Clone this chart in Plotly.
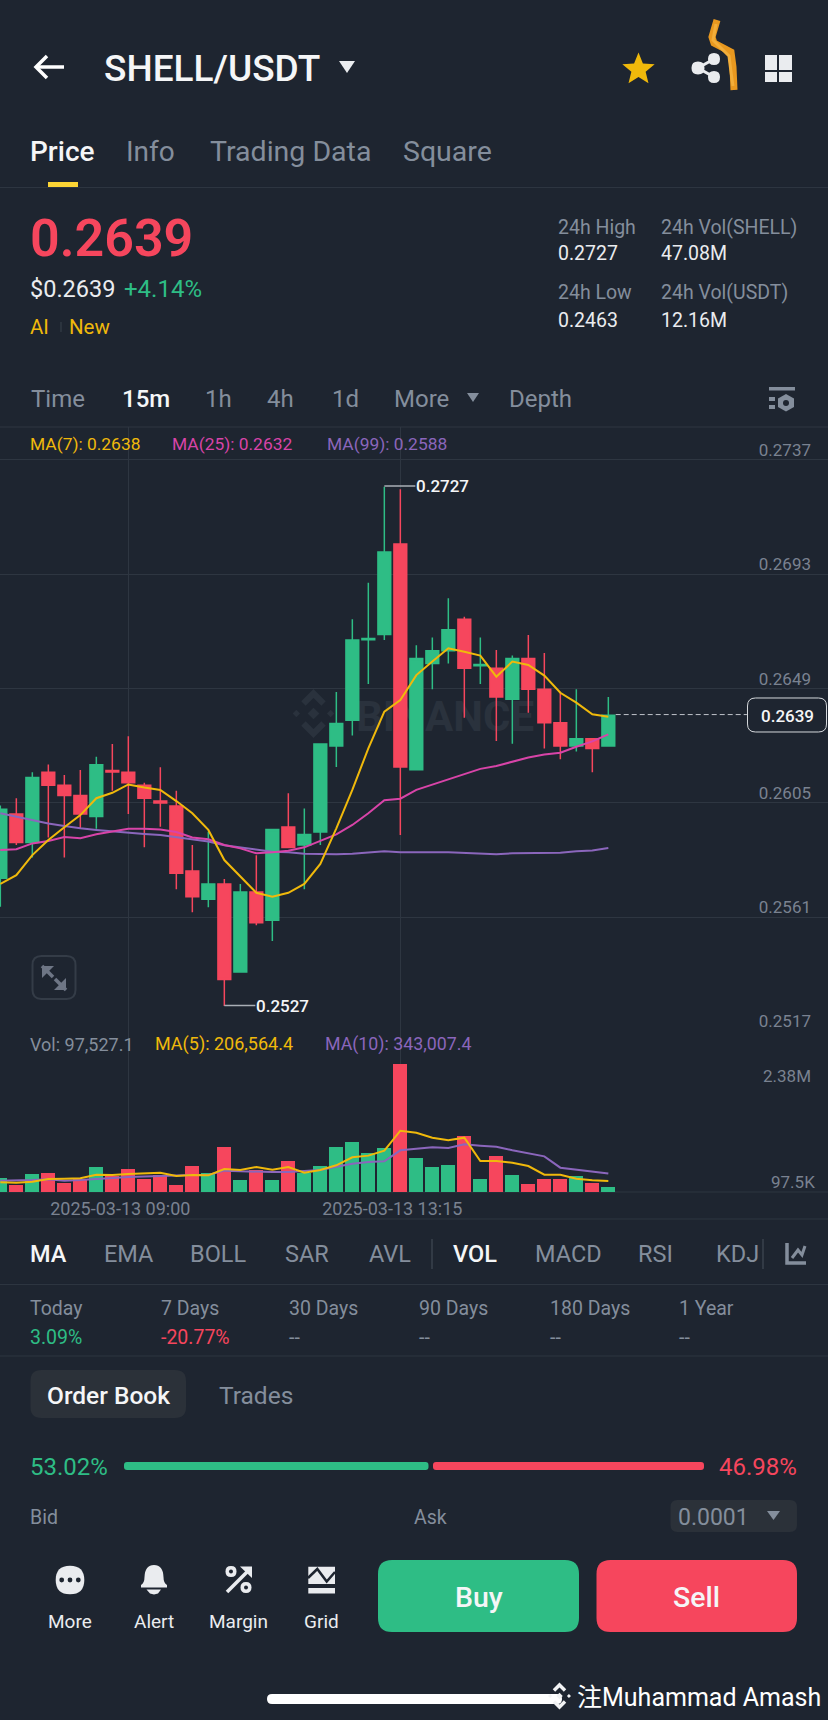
import math
import pandas as pd
import plotly.graph_objects as go

W, H = 828, 1720
FONT = "Roboto"
BG = "#1E2530"
LINE = "#2E3641"
GRAY = "#848E9C"
DIM = "#7A8290"
WHITE = "#EAECEF"
GREEN = "#2EBD85"
RED = "#F6465D"
YELLOW = "#F0B90B"
PINK = "#D844A8"
PURPLE = "#8B66BC"
PANEL = "#2B3139"

# %%
# 15m candles
dates = pd.date_range("2025-03-13 07:00", periods=39, freq="15min")
opens = [0.25760, 0.26007, 0.25898, 0.26168, 0.26118, 0.26078, 0.25998, 0.26175, 0.26168, 0.26118,
         0.26057, 0.26038, 0.25788, 0.25679, 0.25738, 0.25399, 0.25707, 0.25598, 0.25957, 0.25888,
         0.25938, 0.26269, 0.26368, 0.26678, 0.26698, 0.27047, 0.26178, 0.26587, 0.26636, 0.26757,
         0.26578, 0.26568, 0.26449, 0.26606, 0.26487, 0.26359, 0.26269, 0.26297, 0.26269]
highs = [0.26040, 0.26068, 0.26168, 0.26198, 0.26157, 0.26177, 0.26228, 0.26277, 0.26307, 0.26128,
         0.26187, 0.26097, 0.25888, 0.25939, 0.25757, 0.25738, 0.25848, 0.25948, 0.26087, 0.26028,
         0.26277, 0.26477, 0.26757, 0.26897, 0.27267, 0.27257, 0.26657, 0.26687, 0.26838, 0.26767,
         0.26687, 0.26639, 0.26617, 0.26696, 0.26627, 0.26478, 0.26487, 0.26297, 0.26458]
lows = [0.25650, 0.25888, 0.25840, 0.25917, 0.25840, 0.25952, 0.25950, 0.26097, 0.26007, 0.25879,
        0.25958, 0.25718, 0.25629, 0.25648, 0.25268, 0.25399, 0.25579, 0.25518, 0.25878, 0.25718,
        0.25888, 0.26188, 0.26309, 0.26508, 0.26677, 0.25926, 0.26178, 0.26487, 0.26587, 0.26378,
        0.26508, 0.26288, 0.26278, 0.26397, 0.26259, 0.26218, 0.26248, 0.26168, 0.26269]
closes = [0.26026, 0.25898, 0.26148, 0.26118, 0.26078, 0.26007, 0.26197, 0.26169, 0.26128, 0.26068,
          0.26050, 0.25779, 0.25689, 0.25738, 0.25370, 0.25707, 0.25589, 0.25948, 0.25878, 0.25928,
          0.26277, 0.26356, 0.26677, 0.26683, 0.27016, 0.26188, 0.26606, 0.26636, 0.26717, 0.26568,
          0.26583, 0.26458, 0.26606, 0.26487, 0.26359, 0.26269, 0.26297, 0.26259, 0.26387]
ma7 = [0.25738, 0.25772, 0.25849, 0.25907, 0.25956, 0.26003, 0.26068, 0.26089, 0.26121, 0.26109,
       0.26100, 0.26057, 0.26010, 0.25946, 0.25830, 0.25766, 0.25704, 0.25689, 0.25704, 0.25738,
       0.25815, 0.25952, 0.26100, 0.26260, 0.26401, 0.26446, 0.26542, 0.26594, 0.26645, 0.26632,
       0.26617, 0.26536, 0.26594, 0.26581, 0.26540, 0.26474, 0.26436, 0.26391, 0.26382]
ma25 = [0.25869, 0.25872, 0.25894, 0.25903, 0.25919, 0.25914, 0.25929, 0.25939, 0.25950, 0.25950,
        0.25948, 0.25938, 0.25917, 0.25910, 0.25888, 0.25875, 0.25856, 0.25860, 0.25866, 0.25879,
        0.25905, 0.25929, 0.25965, 0.26010, 0.26060, 0.26066, 0.26100, 0.26120, 0.26141, 0.26160,
        0.26181, 0.26192, 0.26209, 0.26225, 0.26236, 0.26243, 0.26266, 0.26287, 0.26314]
ma99 = [0.26010, 0.25997, 0.25984, 0.25971, 0.25961, 0.25952, 0.25946, 0.25940, 0.25935, 0.25930,
        0.25926, 0.25917, 0.25910, 0.25901, 0.25887, 0.25878, 0.25869, 0.25862, 0.25860, 0.25854,
        0.25853, 0.25852, 0.25854, 0.25858, 0.25864, 0.25860, 0.25861, 0.25860, 0.25860, 0.25858,
        0.25856, 0.25852, 0.25856, 0.25857, 0.25856, 0.25858, 0.25864, 0.25867, 0.25876]

# volume in thousands
volumes = [254, 136, 328, 347, 167, 236, 459, 298, 428, 248,
           316, 136, 483, 347, 837, 223, 409, 223, 576, 359,
           483, 837, 936, 719, 812, 2380, 632, 471, 496, 1041,
           236, 663, 310, 155, 242, 236, 304, 167, 97.5]
vol_ma5 = [180, 174, 192, 242, 248, 254, 322, 316, 335, 347,
           359, 298, 316, 310, 428, 409, 465, 415, 465, 359,
           409, 496, 645, 676, 769, 1140, 1103, 1010, 961, 1010,
           576, 576, 545, 483, 322, 322, 248, 217, 206.6]
vol_ma10 = [211, 211, 223, 236, 211, 223, 248, 260, 279, 291,
            304, 310, 316, 316, 397, 384, 372, 372, 372, 397,
            409, 471, 527, 558, 570, 775, 800, 831, 818, 886,
            862, 843, 775, 719, 663, 452, 415, 384, 343]

price_ticks = [0.2737, 0.2693, 0.2649, 0.2605, 0.2561, 0.2517]
time_ticks = ["2025-03-13 09:00", "2025-03-13 13:15"]
last_price = 0.2639
high_price = 0.2727
low_price = 0.2527

# %%
def fx(x):
    return x / W

def fy(y):
    return 1 - y / H

def bar_at(step):
    return dates[0] + pd.Timedelta(minutes=15 * step)

shapes = []
annots = []

def text(x, y, s, size=19.5, color=GRAY, anchor="left", weight=400, family=FONT):
    # left aligned glyphs came out 2px right of the reference
    if anchor == "left":
        x -= 2
    annots.append(dict(x=fx(x), y=fy(y), xref="paper", yref="paper", text=s, showarrow=False,
                       xanchor=anchor, yanchor="middle", borderpad=0,
                       font=dict(family=family, size=size, color=color, weight=weight)))

def poly(points, fill=None, line=None, width=0, close=True, layer="above", opacity=1):
    d = "M" + " L".join(f"{fx(a):.5f},{fy(b):.5f}" for a, b in points) + (" Z" if close else "")
    shapes.append(dict(type="path", path=d, xref="paper", yref="paper", fillcolor=fill,
                       layer=layer, opacity=opacity, line=dict(color=line, width=width)))

def hline(y, x0=0, x1=W, color=LINE, width=1):
    poly([(x0, y), (x1, y)], line=color, width=width, close=False, layer="below")

def box(x0, y0, x1, y1, r=0, fill=None, line=None, width=0, layer="above"):
    d = (f"M{fx(x0 + r):.5f},{fy(y0):.5f} L{fx(x1 - r):.5f},{fy(y0):.5f} "
         f"Q{fx(x1):.5f},{fy(y0):.5f} {fx(x1):.5f},{fy(y0 + r):.5f} "
         f"L{fx(x1):.5f},{fy(y1 - r):.5f} Q{fx(x1):.5f},{fy(y1):.5f} {fx(x1 - r):.5f},{fy(y1):.5f} "
         f"L{fx(x0 + r):.5f},{fy(y1):.5f} Q{fx(x0):.5f},{fy(y1):.5f} {fx(x0):.5f},{fy(y1 - r):.5f} "
         f"L{fx(x0):.5f},{fy(y0 + r):.5f} Q{fx(x0):.5f},{fy(y0):.5f} {fx(x0 + r):.5f},{fy(y0):.5f} Z")
    shapes.append(dict(type="path", path=d, xref="paper", yref="paper", fillcolor=fill, layer=layer,
                       line=dict(color=line, width=width)))

def dot(cx, cy, r, fill):
    box(cx - r, cy - r, cx + r, cy + r, r=r, fill=fill)

def caret(x0, x1, y0, y1, color):
    poly([(x0, y0), (x1, y0), ((x0 + x1) / 2, y1)], fill=color)

def logo(cx, cy, s, color, layer="above"):
    def part(pts):
        poly([(cx + a * s, cy + b * s) for a, b in pts], fill=color, layer=layer)
    part([(0, -0.24), (0.24, 0), (0, 0.24), (-0.24, 0)])
    part([(-0.7, -0.15), (-0.55, 0), (-0.7, 0.15), (-0.85, 0)])
    part([(0.7, -0.15), (0.85, 0), (0.7, 0.15), (0.55, 0)])
    for sign in (-1, 1):
        part([(0, sign), (0.5, sign * 0.5), (0.32, sign * 0.32), (0, sign * 0.63), (-0.32, sign * 0.32), (-0.5, sign * 0.5)])

# %%
# header
poly([(36, 67), (64, 67)], line="#FFFFFF", width=3.5, close=False)
poly([(47, 56), (36, 67), (47, 78)], line="#FFFFFF", width=3.5, close=False)
text(105, 68, "SHELL/USDT", 37, "#F5F6F7", weight=500)
caret(339, 355, 61, 73, WHITE)
star = []
for k in range(10):
    r = 17 if k % 2 == 0 else 7.5
    a = -math.pi / 2 + k * math.pi / 5
    star.append((638.5 + r * math.cos(a), 69.5 + r * math.sin(a)))
poly(star, fill=YELLOW)
poly([(714, 59), (698, 68), (714, 77)], line=WHITE, width=3, close=False)
dot(714, 59, 6, WHITE)
dot(698, 68, 6.5, WHITE)
dot(714, 77, 6, WHITE)
for x0, x1, y0, y1 in [(765, 777, 55, 70), (779, 792, 55, 70), (765, 777, 72, 82), (779, 792, 72, 82)]:
    box(x0, y0, x1, y1, fill=WHITE)
poly([(717, 20), (712, 37), (714, 43), (731, 52), (733, 67), (734, 90)], line="#E8981F", width=7, close=False)
poly([(716, 24), (713, 40), (720, 47), (729, 56), (731, 72), (733, 86)], line="#F2AE3A", width=3, close=False)

text(31, 152, "Price", 28, "#F5F6F7", weight=500)
text(127, 152, "Info", 28, GRAY)
text(211, 152, "Trading Data", 28.5, GRAY)
text(404, 152, "Square", 28.5, GRAY)
box(48, 182, 78, 187, fill="#FCD535")
hline(187.5)

text(31, 238, "0.2639", 52, RED, weight=600)
text(31, 289, "$0.2639", 23.5, WHITE)
text(125, 289, "+4.14%", 24, GREEN)
text(31, 327, "AI", 20.5, YELLOW)
poly([(61, 322), (61, 332)], line="#3A424D", width=1, close=False)
text(70, 327, "New", 20.5, YELLOW)
text(559, 227, "24h High")
text(559, 254, "0.2727", 19.5, WHITE)
text(662, 227, "24h Vol(SHELL)")
text(662, 254, "47.08M", 19.5, WHITE)
text(559, 292, "24h Low")
text(559, 320, "0.2463", 19.5, WHITE)
text(662, 292, "24h Vol(USDT)")
text(662, 320, "12.16M", 19.5, WHITE)

for x, s, c, w in [(32, "Time", GRAY, 400), (123, "15m", "#F5F6F7", 500), (206, "1h", GRAY, 400), (268, "4h", GRAY, 400),
                   (333, "1d", GRAY, 400), (395, "More", GRAY, 400), (510, "Depth", GRAY, 400)]:
    text(x, 399, s, 24, c, weight=w)
caret(467, 479, 393, 402, GRAY)
box(769, 387, 795, 390.5, fill=GRAY)
box(769, 397, 775, 401, fill=GRAY)
box(769, 405, 775, 409, fill=GRAY)
poly([(786, 394), (794, 398.5), (794, 407), (786, 411.5), (778, 407), (778, 398.5)], fill=GRAY)
dot(786, 403, 3, BG)

# chart legends
hline(427)
text(31, 444, "MA(7): 0.2638", 17.4, YELLOW)
text(173, 444, "MA(25): 0.2632", 17.4, PINK)
text(328, 444, "MA(99): 0.2588", 17.4, PURPLE)
text(31, 1044, "Vol: 97,527.1", 18, GRAY)
text(156, 1044, "MA(5): 206,564.4", 18, YELLOW)
text(326, 1044, "MA(10): 343,007.4", 17.8, PURPLE)
text(812, 1076, "2.38M", 17, DIM, anchor="right")
text(816, 1182, "97.5K", 17, DIM, anchor="right")

# watermark sits under the candles
logo(313.5, 713.5, 24.5, "#2A323D", layer="below")
shapes.append(dict(type="rect", xref="paper", yref="paper", x0=fx(350), x1=fx(540), y0=fy(735), y1=fy(692),
                   layer="below", line=dict(width=0),
                   label=dict(text="BINANCE", font=dict(family=FONT, size=42, color="#2A323D", weight=700),
                              textposition="middle center")))

# expand button
box(32.5, 956, 75.5, 999, r=9, line="#343C47", width=2)
poly([(42, 966), (53, 977)], line="#6E7685", width=3.5, close=False)
poly([(42, 966), (54, 966), (42, 978)], fill="#6E7685")
poly([(55, 979), (66, 990)], line="#6E7685", width=3.5, close=False)
poly([(66, 990), (54, 990), (66, 978)], fill="#6E7685")

# last price tag
box(747.5, 698, 826.5, 732, r=8, fill=BG, line="#D5D8DC", width=1)
text(787, 715.5, "0.2639", 17, "#F5F6F7", anchor="center", weight=500)

# %%
# indicator row and lower panels
hline(1192)
hline(1219)
for x, s, c, w in [(31, "MA", "#F5F6F7", 500), (104.5, "EMA", GRAY, 400), (191, "BOLL", GRAY, 400), (285.5, "SAR", GRAY, 400),
                   (370, "AVL", GRAY, 400), (454, "VOL", "#F5F6F7", 500), (536, "MACD", GRAY, 400), (639, "RSI", GRAY, 400),
                   (717, "KDJ", GRAY, 400)]:
    text(x, 1254, s, 23.5, c, weight=w)
poly([(432, 1239), (432, 1269)], line="#3A424D", width=1.5, close=False)
poly([(763, 1239), (763, 1269)], line="#3A424D", width=1.5, close=False)
poly([(787, 1243), (787, 1263), (806, 1263)], line=GRAY, width=3.5, close=False)
poly([(792, 1258), (798, 1250), (802, 1255), (805, 1246)], line=GRAY, width=3, close=False)
hline(1284.5)

periods = [(31, "Today", "3.09%", GREEN), (161.5, "7 Days", "-20.77%", RED), (290, "30 Days", "--", GRAY),
           (420, "90 Days", "--", GRAY), (551, "180 Days", "--", GRAY), (680, "1 Year", "--", GRAY)]
for x, s, v, c in periods:
    text(x, 1308, s)
    text(x, 1337, v, 19.5, c)
hline(1356)

box(30.5, 1370, 186, 1418, r=11, fill=PANEL)
text(47.5, 1395, "Order Book", 24.5, "#F5F6F7", weight=500)
text(220, 1395, "Trades", 24.5, GRAY)

text(31, 1467, "53.02%", 24, GREEN)
box(124, 1462, 428.5, 1470, r=3, fill=GREEN)
box(433, 1462, 704, 1470, r=3, fill=RED)
text(720, 1467, "46.98%", 24, RED)

text(31, 1517, "Bid")
text(414.5, 1517, "Ask")
box(670.5, 1500, 797, 1532, r=7, fill=PANEL)
text(678.5, 1517, "0.0001", 23, GRAY)
caret(767, 780, 1511, 1520, GRAY)

box(378, 1560, 579, 1632, r=14, fill=GREEN)
text(478.5, 1597, "Buy", 28.5, "#F5F6F7", anchor="center", weight=500)
box(596.5, 1560, 797, 1632, r=14, fill=RED)
text(696.5, 1597, "Sell", 28.5, "#F5F6F7", anchor="center", weight=500)

# more
dot(70, 1580, 14.3, WHITE)
for x in (61.7, 70, 78.3):
    dot(x, 1580, 2.4, BG)
text(70, 1621, "More", 19, WHITE, anchor="center")
# alert
bell = (f"M{fx(141):.5f},{fy(1587.5):.5f} L{fx(141):.5f},{fy(1585):.5f} Q{fx(144.5):.5f},{fy(1583):.5f} {fx(144.5):.5f},{fy(1577):.5f} "
        f"Q{fx(145):.5f},{fy(1565):.5f} {fx(154):.5f},{fy(1565):.5f} Q{fx(163):.5f},{fy(1565):.5f} {fx(163.5):.5f},{fy(1577):.5f} "
        f"Q{fx(163.5):.5f},{fy(1583):.5f} {fx(167):.5f},{fy(1585):.5f} L{fx(167):.5f},{fy(1587.5):.5f} Z")
shapes.append(dict(type="path", path=bell, xref="paper", yref="paper", fillcolor=WHITE, line=dict(width=0)))
poly([(146.5, 1589.5), (161, 1589.5), (158, 1593.5), (154, 1594.5), (150, 1593.5)], fill=WHITE)
text(153.6, 1621, "Alert", 19, WHITE, anchor="center")
# margin
poly([(227, 1592), (249, 1570)], line=WHITE, width=3.5, close=False)
poly([(240, 1566.5), (252, 1566.5), (252, 1578)], fill=WHITE)
dot(231, 1571.5, 5.5, WHITE)
dot(231, 1571.5, 2, BG)
dot(246, 1587.5, 5.5, WHITE)
dot(246, 1587.5, 2, BG)
text(238, 1621, "Margin", 19, WHITE, anchor="center")
# grid
box(308.3, 1566.7, 335, 1584, fill=WHITE)
poly([(308, 1578), (317.3, 1569), (326.7, 1581.5), (335, 1572)], line=BG, width=2.5, close=False)
box(308.3, 1588, 335, 1593.5, fill=WHITE)
text(321.5, 1621, "Grid", 19, WHITE, anchor="center")

# home bar and overlay credit
box(267, 1694, 562, 1704, r=5, fill="#FFFFFF")
logo(559.5, 1696, 13.5, "#F2F3F4")
text(578, 1697, "注Muhammad Amash", 25, "#FFFFFF", family="Roboto, Noto Sans CJK SC")

# high / low callouts
for price, step, dx in [(high_price, 24, 31), (low_price, 14, 31)]:
    annots.append(dict(x=bar_at(step), y=price, xref="x", yref="y", ax=dx, ay=0, axref="pixel", ayref="pixel",
                       text=f"{price:.4f}", xanchor="left", yanchor="middle", showarrow=True, arrowhead=0,
                       arrowwidth=1.5, arrowcolor="#A9AEB5", standoff=0, startstandoff=0, borderpad=0,
                       font=dict(family=FONT, size=17, color="#F5F6F7", weight=500)))

# %%
fig = go.Figure()
fig.add_trace(go.Candlestick(x=dates, open=opens, high=highs, low=lows, close=closes,
                             whiskerwidth=0, hoverinfo="skip",
                             increasing=dict(line=dict(color=GREEN, width=1.5), fillcolor=GREEN),
                             decreasing=dict(line=dict(color=RED, width=1.5), fillcolor=RED)))
for vals, col in [(ma99, PURPLE), (ma25, PINK), (ma7, YELLOW)]:
    fig.add_trace(go.Scatter(x=dates, y=vals, mode="lines", line=dict(color=col, width=2), hoverinfo="skip"))
fig.add_trace(go.Scatter(x=[bar_at(38.46), bar_at(46.66)], y=[last_price, last_price], mode="lines",
                         line=dict(color="#BFC3C9", width=1, dash="5px,3px"), hoverinfo="skip"))

bar_colors = [GREEN if c >= o else RED for o, c in zip(opens, closes)]
fig.add_trace(go.Bar(x=dates, y=[v * 1000 for v in volumes], marker=dict(color=bar_colors, line=dict(width=0)),
                     width=800000, xaxis="x2", yaxis="y2", hoverinfo="skip"))
fig.add_trace(go.Scatter(x=dates, y=[v * 1000 for v in vol_ma10], mode="lines", line=dict(color=PURPLE, width=2),
                         xaxis="x2", yaxis="y2", hoverinfo="skip"))
fig.add_trace(go.Scatter(x=dates, y=[v * 1000 for v in vol_ma5], mode="lines", line=dict(color=YELLOW, width=2),
                         xaxis="x2", yaxis="y2", hoverinfo="skip"))

x_range = [bar_at(-0.33 / 16), bar_at((W - 0.33) / 16)]
common_x = dict(range=x_range, type="date", showline=False, zeroline=False, ticks="", tickmode="array",
                tickvals=time_ticks, showgrid=True, gridcolor=LINE, gridwidth=1)
fig.update_layout(
    width=W, height=H, margin=dict(l=0, r=0, t=0, b=0), showlegend=False,
    paper_bgcolor=BG, plot_bgcolor=BG, boxgap=0.2, boxgroupgap=0, bargap=0, hovermode=False,
    font=dict(family=FONT),
    xaxis=dict(common_x, anchor="y", domain=[0, 1], showticklabels=False, rangeslider=dict(visible=False)),
    yaxis=dict(domain=[fy(1031.5), fy(427)], range=[0.2517, 0.27497], anchor="x", side="right",
               tickmode="array", tickvals=price_ticks, ticktext=[f"{p:.4f}" for p in price_ticks],
               ticklabelposition="inside", ticklabelstandoff=14, ticklabelshift=-10, ticks="",
               tickfont=dict(family=FONT, size=17, color=DIM), showgrid=True, gridcolor=LINE, zeroline=False, showline=False),
    xaxis2=dict(common_x, anchor="y2", domain=[0, 1], tickformat="%Y-%m-%d %H:%M", ticklabelshift=-8, ticklabelstandoff=4,
                tickfont=dict(family=FONT, size=18, color=DIM)),
    yaxis2=dict(domain=[fy(1192), fy(1032)], range=[0, 2975000], anchor="x2", side="right", showticklabels=False,
                showgrid=False, zeroline=False, showline=False, ticks=""),
    shapes=shapes, annotations=annots,
)

# body margin would push the 828 px figure off the window
fig.write_html("out.html", config={"displayModeBar": False}, post_script="document.body.style.margin='0';")
